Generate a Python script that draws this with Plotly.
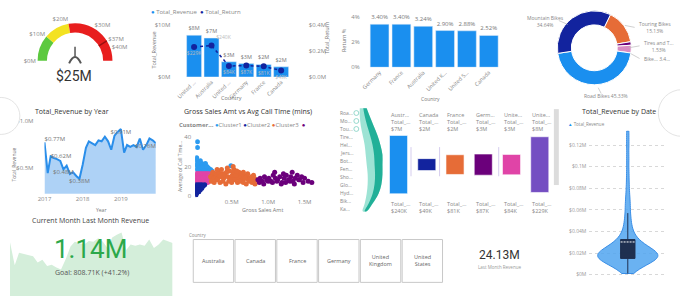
import plotly.graph_objects as go

# ---------------- data ----------------
countries = ["Australia", "Canada", "France", "Germany", "United Kingdom", "United States"]
revenue_m = [7.41, 1.94, 2.38, 2.56, 2.90, 7.95]
return_k = [240, 49, 81, 87, 84, 229]
return_pct = {"Germany": 3.40, "France": 3.40, "Australia": 3.24,
              "United Kingdom": 2.90, "United States": 2.88, "Canada": 2.52}
return_order = ["Germany", "France", "Australia", "United Kingdom", "United States", "Canada"]
return_ticks = ["Germany", "France", "Australia", "United K...", "United S...", "Canada"]
combo_ticks = {"Australia": "Australia", "Canada": "Canada", "France": "France", "Germany": "Germany",
               "United Kingdom": "United ...", "United States": "United ..."}
decomp_names = ["Austr...", "Canada", "France", "Germ...", "Unite...", "Unite..."]

gauge_value = 25
gauge_target = 37
gauge_max = 45
gauge_ticks = [0, 10, 20, 30, 37, 40]

categories = ["Touring Bikes", "Tires and T...", "Bike...", "Road Bikes", "Mountain Bikes"]
category_share = [15.13, 1.53, 3.37, 45.33, 34.64]

months = [f"{y}-{m:02d}-01" for y in (2017, 2018, 2019) for m in range(1, 13)]
monthly_revenue_m = [0.77, 0.44, 0.62, 0.60, 0.59, 0.57, 0.48, 0.52, 0.43, 0.45, 0.41, 0.38,
                     0.53, 0.71, 0.78, 0.76, 0.74, 0.79, 0.78, 0.83, 0.78, 0.69, 0.84, 0.88,
                     0.91, 0.66, 0.74, 0.72, 0.74, 0.72, 0.81, 0.69, 0.74, 0.81, 0.79, 0.76]
year_ticks = ["2017", "2018", "2019"]
labelled_months = {0: "top right", 2: "middle right", 6: "bottom center", 11: "bottom center",
                   24: "bottom center", 35: "bottom left"}

products = ["Roa...", "Mo...", "Tou...", "Tire...", "Hel...", "Jers...", "Bot...", "Fen...",
            "Sho...", "Glo...", "Hyd...", "Bik...", "Ka..."]

# scatter clusters (Gross Sales Amt in M, Avg call time in mins)
c1_x = [0.01, 0.02, 0.03, 0.04, 0.05, 0.06, 0.07, 0.08, 0.09, 0.10, 0.11, 0.12, 0.13, 0.14, 0.15, 0.16, 0.17, 0.18, 0.19, 0.21,
        0.01, 0.03, 0.05, 0.07, 0.09, 0.11, 0.13, 0.15, 0.17, 0.20,
        0.02, 0.04, 0.06, 0.08, 0.10, 0.12, 0.14, 0.16, 0.18, 0.23,
        0.49, 0.03, 0.03, 0.02]
c1_y = [25, 22, 24, 21, 23, 20, 24, 19, 22, 21, 20, 18, 21, 17, 19, 18, 17, 19, 17, 18,
        19, 18, 17, 20, 17, 16, 18, 16, 19, 17,
        21, 17, 19, 16, 19, 17, 22, 20, 16, 17,
        20.5, 33, 37, 26]
c2_x = [0.01, 0.03, 0.05, 0.07, 0.09, 0.11, 0.13, 0.01, 0.03, 0.05, 0.07, 0.09, 0.11,
        0.01, 0.03, 0.05, 0.07, 0.09, 0.01, 0.03, 0.05, 0.07, 0.01, 0.03, 0.05, 0.01, 0.02, 0.01]
c2_y = [7.5, 7.3, 7.6, 7.4, 7.5, 7.2, 7.6, 6.4, 6.6, 6.3, 6.5, 6.2, 6.6,
        5.2, 5.4, 5.1, 5.3, 5.2, 4.0, 4.2, 3.9, 4.1, 2.8, 2.9, 2.7, 1.6, 1.7, 0.5]
c3_x = [0.21, 0.23, 0.25, 0.27, 0.29, 0.31, 0.33, 0.35, 0.37, 0.39, 0.41, 0.43, 0.45, 0.47, 0.49, 0.51,
        0.53, 0.55, 0.57, 0.59, 0.61, 0.63, 0.65, 0.67, 0.69, 0.71, 0.73, 0.75, 0.77, 0.79, 0.81, 0.83,
        0.22, 0.26, 0.30, 0.34, 0.38, 0.42, 0.46, 0.50, 0.54, 0.58, 0.62, 0.66, 0.70, 0.74, 0.78, 0.82,
        0.24, 0.28, 0.32, 0.36, 0.40, 0.44, 0.48, 0.52, 0.56, 0.60, 0.64, 0.68, 0.72, 0.76, 0.80,
        0.44, 0.52, 0.57, 0.36, 0.66, 0.30]
c3_y = [13, 14, 12, 15, 13, 12, 14, 13, 15, 12, 14, 16, 13, 17, 12, 14, 18, 13, 15, 12, 14, 13, 11, 14,
        12, 13, 11, 12, 13, 10, 12, 11,
        10, 9, 11, 9, 10, 8, 10, 9, 11, 9, 10, 9, 8, 10, 9, 8,
        16, 15, 16, 14, 15, 17, 11, 16, 14, 16, 15, 12, 15, 11, 14,
        19, 20, 17, 18, 16, 18]
c4_x = [0.01, 0.02, 0.03, 0.04, 0.05, 0.06, 0.07, 0.08, 0.09, 0.10, 0.11, 0.12, 0.13, 0.14, 0.15, 0.16, 0.17, 0.18, 0.19, 0.20,
        0.01, 0.02, 0.03, 0.04, 0.05, 0.06, 0.07, 0.08, 0.09, 0.10, 0.11, 0.12, 0.13, 0.14, 0.15, 0.16, 0.17, 0.18, 0.19, 0.20,
        0.01, 0.03, 0.05, 0.07, 0.09, 0.11, 0.13, 0.15, 0.17, 0.19]
c4_y = [15, 14, 15, 14, 15, 14, 15, 14, 15, 14, 15, 14, 15, 14, 15, 14, 15, 14, 15, 14,
        12, 11, 12, 11, 12, 11, 12, 11, 12, 11, 12, 11, 12, 11, 12, 11, 12, 11, 12, 11,
        9, 9.5, 9, 9.5, 9, 9.5, 9, 9.5, 9, 10]
c5_x = [0.86, 0.89, 0.92, 0.95, 0.98, 1.01, 1.04, 1.07, 1.10, 1.13, 1.16, 1.19, 1.22, 1.25, 1.28, 1.31,
        1.34, 1.37, 1.40, 1.43, 1.46, 1.50, 1.55, 1.60,
        0.88, 0.94, 1.00, 1.06, 1.12, 1.18, 1.24, 1.30, 1.36, 1.42, 1.48, 1.09, 1.21, 1.33]
c5_y = [11, 12, 10, 13, 11, 12, 10, 14, 12, 11, 13, 9, 12, 14, 11, 13, 10, 12, 14, 11, 13, 12, 10, 9,
        9, 8, 10, 9, 10, 8, 9, 10, 8, 11, 9, 16, 15, 16]

daily_revenue_m = [0.001, 0.004, 0.006, 0.007, 0.008, 0.009, 0.010, 0.010, 0.011, 0.012, 0.012, 0.013, 0.013,
                   0.014, 0.014, 0.015, 0.015, 0.015, 0.016, 0.016, 0.016, 0.017, 0.017, 0.017, 0.018,
                   0.018, 0.018, 0.019, 0.019, 0.019, 0.020, 0.020, 0.020, 0.021, 0.021, 0.022, 0.022,
                   0.023, 0.023, 0.024, 0.025, 0.025, 0.026, 0.027, 0.028, 0.029, 0.030, 0.031, 0.032,
                   0.034, 0.036, 0.038, 0.041, 0.044, 0.048, 0.052, 0.057, 0.063, 0.068, 0.075, 0.084,
                   0.095, 0.108, 0.121, 0.133]

# ribbon (flow of products into first country)
rib_y = [107, 115, 125, 135, 145, 155, 165, 175, 185, 195, 205, 213]
rib_lo = [355, 355, 356, 358, 360, 361, 362, 363, 363, 362, 360, 358]
rib_hi = [362, 365, 369, 373, 376, 378, 378, 378, 377, 374, 368, 362]

BLUE = "#1A8FEF"
NAVY = "#12239E"
ORANGE = "#E66C37"
PURPLE = "#6B007B"
PINK = "#E044A7"
VIOLET = "#744EC2"
country_colors = [BLUE, NAVY, ORANGE, PURPLE, PINK, VIOLET]
FONT = "Open Sans"


def X(px):
    return px / 680


def Y(py):
    return 1 - py / 300


fig = go.Figure()
ann = []
shapes = []


def text(t, px, py, size=6, color="#777", xa="center", ya="middle", angle=0, family=FONT, **kw):
    ann.append(dict(text=t, x=X(px), y=Y(py), xref="paper", yref="paper", showarrow=False,
                    xanchor=xa, yanchor=ya, textangle=angle,
                    font=dict(size=size, color=color, family=family), **kw))


# ---------------- gauge ----------------
fig.add_trace(go.Indicator(
    mode="gauge", value=gauge_value,
    domain=dict(x=[X(28), X(104)], y=[Y(60), Y(18)]),
    gauge=dict(
        shape="angular",
        axis=dict(range=[0, gauge_max], tickvals=gauge_ticks,
                  ticktext=[f"${t}M" for t in gauge_ticks],
                  tickfont=dict(size=6, color="#888", family=FONT), ticklen=0, tickwidth=0),
        bar=dict(color="rgba(0,0,0,0)", thickness=0),
        bgcolor="white", borderwidth=0,
        steps=[dict(range=[0, 10], color="#5CC93F"),
               dict(range=[10, 20], color="#F3E221"),
               dict(range=[20, gauge_max], color="#E81E1E")],
        threshold=dict(line=dict(color="#9B1010", width=1.5), thickness=1, value=gauge_target),
    ),
))
text(f"${gauge_value}M", 65, 74, size=14, color="#333", family="Roboto")
shapes.append(dict(type="path", xref="paper", yref="paper",
                   path=f"M {X(60)},{Y(61)} Q {X(66)},{Y(48)} {X(72)},{Y(61)}",
                   line=dict(color="#555", width=2)))
shapes.append(dict(type="line", xref="paper", yref="paper", x0=X(66), x1=X(66), y0=Y(54), y1=Y(44),
                   line=dict(color="#555", width=1.5)))

# ---------------- combo: revenue + return by country ----------------
order = sorted(range(len(countries)), key=lambda i: -revenue_m[i])
fig.add_trace(go.Bar(
    x=list(range(6)), y=[revenue_m[i] for i in order], marker_color=BLUE, width=0.86,
    text=[f"${revenue_m[i]:.0f}M" for i in order], textposition="outside", cliponaxis=False,
    textfont=dict(size=5.5, color="#777"), xaxis="x", yaxis="y"))
fig.add_trace(go.Scatter(
    x=list(range(6)), y=[return_k[i] / 1000 for i in order], mode="lines+markers+text",
    line=dict(color=NAVY, width=1.5, dash="dot"), marker=dict(color=NAVY, size=6),
    text=[f"${return_k[i]}K" for i in order],
    textposition=["bottom center", "top right", "bottom center", "bottom center", "bottom center", "bottom center"],
    textfont=dict(size=5, color="#bbb"), cliponaxis=False, xaxis="x", yaxis="y2"))
text(f"<span style='color:{BLUE}'>●</span> Total_Revenue  <span style='color:{NAVY}'>●</span> Total_Return",
     141, 8, size=6, color="#888", xa="left")
text("Total_Revenue", 146, 47, size=5.5, angle=-90)
text("Total_Return", 322, 35, size=5.5, angle=-90)
text("Country", 225, 97, size=5.5)

# ---------------- return % bars ----------------
fig.add_trace(go.Bar(
    x=list(range(6)), y=[return_pct[c] for c in return_order], marker_color=BLUE, width=0.86,
    text=[f"{return_pct[c]:.2f}%" for c in return_order], textposition="outside", cliponaxis=False,
    textfont=dict(size=6, color="#777"), xaxis="x2", yaxis="y3"))
text("Return %", 339, 37, size=5.5, angle=-90)
text("Country", 427, 98, size=5)

# ---------------- donut ----------------
fig.add_trace(go.Pie(
    labels=categories, values=category_share, hole=0.62, sort=False, direction="clockwise",
    rotation=26, textinfo="none", marker=dict(colors=[ORANGE, PURPLE, "#D98BC2", BLUE, NAVY],
                                               line=dict(color="white", width=1)),
    domain=dict(x=[X(555), X(631)], y=[Y(83), Y(7)])))
text(f"{categories[4]}<br>{category_share[4]:.2f}%", 543, 18, size=5, color="#888")
text(f"{categories[0]}<br>{category_share[0]:.2f}%", 636, 24, size=5, color="#888", xa="left")
text(f"{categories[1]}<br>{category_share[1]:.2f}%", 641, 44, size=5, color="#888", xa="left")
text(f"{categories[2]} {category_share[2]:.1f}...", 641, 57, size=5, color="#888", xa="left")
text(f"{categories[3]} {category_share[3]:.2f}%", 605, 95, size=5, color="#888")
for (a, b, c, d) in [(557, 17, 566, 21), (624, 22, 634, 24), (628, 45, 639, 43), (630, 51, 639, 56), (597, 86, 600, 92)]:
    shapes.append(dict(type="line", xref="paper", yref="paper", x0=X(a), y0=Y(b), x1=X(c), y1=Y(d),
                       line=dict(color="#bbb", width=0.7)))

# ---------------- revenue by year ----------------
fig.add_trace(go.Scatter(
    x=months, y=monthly_revenue_m, mode="lines+text", fill="tozeroy",
    fillcolor="rgba(120,180,240,0.6)", line=dict(color="#2A8EEA", width=2),
    text=[f"${v:.2f}M" if i in labelled_months else "" for i, v in enumerate(monthly_revenue_m)],
    textposition=[labelled_months.get(i, "top center") for i in range(len(months))],
    textfont=dict(size=6, color="#777"), cliponaxis=False, xaxis="x3", yaxis="y4"))
text("Total_Revenue by Year", 63, 110, size=7, color="#333")
text("Total_Revenue", 4, 165, size=5, angle=-90)
text("Year", 92, 212, size=5)

# ---------------- scatter ----------------
for xs, ys, col in [(c1_x, c1_y, "#2C9BF0"), (c4_x, c4_y, PINK), (c2_x, c2_y, NAVY),
                    (c3_x, c3_y, ORANGE), (c5_x, c5_y, PURPLE)]:
    fig.add_trace(go.Scatter(x=xs, y=ys, mode="markers", marker=dict(color=col, size=5),
                             xaxis="x4", yaxis="y5"))
text("Gross Sales Amt vs Avg Call Time (mins)", 242, 110, size=7, color="#333")
text(f"<b>Customer...</b> <span style='color:#2C9BF0'>●</span>Cluster1 <span style='color:{NAVY}'>●</span>Cluster2 "
     f"<span style='color:{ORANGE}'>●</span>Cluster3  <span style='color:{PURPLE}'>●</span>",
     169, 124, size=6, color="#888", xa="left")
text("Average of Call Time...", 172, 167, size=5, angle=-90)
text("Gross Sales Amt", 256, 212, size=5.5)

# ---------------- decomposition-like visual ----------------
fig.add_trace(go.Scatter(x=rib_lo + rib_hi[::-1], y=rib_y + rib_y[::-1], fill="toself", mode="lines",
                         line=dict(width=0, shape="spline"), fillcolor="rgba(60,200,170,0.5)",
                         xaxis="x8", yaxis="y9"))
inner = [h - (h - l) * 0.5 for l, h in zip(rib_lo, rib_hi)]
fig.add_trace(go.Scatter(x=inner + rib_hi[::-1], y=rib_y + rib_y[::-1], fill="toself", mode="lines",
                         line=dict(width=0, shape="spline"), fillcolor="rgba(20,170,145,0.9)",
                         xaxis="x8", yaxis="y9"))
fig.add_trace(go.Bar(x=list(range(6)), y=return_k, base=[-v / 2 for v in return_k], width=0.64,
                     marker=dict(color=country_colors, line=dict(color="rgba(255,255,255,0.6)", width=1)),
                     xaxis="x5", yaxis="y6"))
for i, name in enumerate(decomp_names):
    ann.append(dict(text=f"{name}<br>Total_...<br>${revenue_m[i]:.0f}M", x=i - 0.34, y=Y(108),
                    xref="x5", yref="paper", xanchor="left", yanchor="top", align="left", showarrow=False,
                    font=dict(size=5.5, color="#888", family=FONT)))
    ann.append(dict(text=f"Total_...<br>${return_k[i]}K", x=i - 0.34, y=Y(199),
                    xref="x5", yref="paper", xanchor="left", yanchor="top", align="left", showarrow=False,
                    font=dict(size=5.5, color="#888", family=FONT)))
for i, p in enumerate(products):
    text(p, 333, 112 + i * 8.2, size=5, color="#888", xa="left")
for i in range(3):
    shapes.append(dict(type="circle", xref="paper", yref="paper", x0=X(349), x1=X(354),
                       y0=Y(109.5 + i * 8.2), y1=Y(114.5 + i * 8.2), line=dict(color="#7ccfc0", width=0.8)))
for sx in [407, 436, 496]:
    shapes.append(dict(type="line", xref="paper", yref="paper", x0=X(sx), x1=X(sx), y0=Y(147), y1=Y(177),
                       line=dict(color="#d5cdee", width=1)))
shapes.append(dict(type="rect", xref="paper", yref="paper", x0=X(552), x1=X(557), y0=Y(186), y1=Y(108),
                   fillcolor="#dcdcdc", line=dict(width=0)))

# ---------------- violin ----------------
fig.add_trace(go.Violin(y=daily_revenue_m, x0=0, width=1.56, spanmode="hard", points=False,
                        fillcolor="rgba(80,165,240,0.85)", line=dict(color="#3A8EE6", width=1),
                        box=dict(visible=True, width=0.24, fillcolor="#1F3050", line=dict(color="#1F3050", width=1)),
                        meanline=dict(visible=True, color="white", width=1),
                        xaxis="x6", yaxis="y7"))
text("Total_Revenue by Date", 618, 110, size=7, color="#333")
text(f"<span style='color:{BLUE}'>▲</span> Total_Revenue", 564, 123, size=4.5, color="#888", xa="left")

# ---------------- KPI ----------------
fig.add_trace(go.Scatter(x=months, y=monthly_revenue_m, mode="lines", fill="tozeroy",
                         fillcolor="#D4EEDA", line=dict(width=0), xaxis="x7", yaxis="y8"))
text("Current Month Last Month Revenue", 82, 222, size=7, color="#444")
text("1.14M", 82, 252, size=26, color="#2BA84A", family="Roboto")
text("Goal: 808.71K (+41.2%)", 83, 276, size=7, color="#555")

# ---------------- slicer + card ----------------
text("Country", 180, 237, size=4.5, color="#888", xa="left")
for i, c in enumerate(countries):
    x0 = 186 + i * 42.4
    shapes.append(dict(type="rect", xref="paper", yref="paper", x0=X(x0), x1=X(x0 + 41), y0=Y(286), y1=Y(242),
                       line=dict(color="#c8c8c8", width=1), fillcolor="white"))
    text(c.replace("United ", "United<br>"), x0 + 20.5, 264, size=5.5, color="#666")
text("24.13M", 497, 258, size=12, color="#333", family="Roboto")
text("Last Month Revenue", 497, 270, size=4.5, color="#999")

# UI overlay circles
shapes.append(dict(type="circle", xref="paper", yref="paper", x0=X(658), x1=X(706), y0=Y(136), y1=Y(88),
                   line=dict(color="#e4e4e4", width=1), fillcolor="white", layer="above"))
shapes.append(dict(type="circle", xref="paper", yref="paper", x0=X(-28), x1=X(10), y0=Y(134), y1=Y(96),
                   line=dict(color="#e4e4e4", width=1), fillcolor="white", layer="above"))

# ---------------- layout ----------------
tf = dict(size=6, color="#888", family=FONT)
hidden = dict(visible=False, showgrid=False, zeroline=False)
base_ax = dict(showgrid=False, zeroline=False, showline=False, ticks="", tickfont=tf)

fig.update_layout(
    width=680, height=300, margin=dict(l=0, r=0, t=0, b=0),
    paper_bgcolor="white", plot_bgcolor="white", showlegend=False,
    font=dict(family=FONT), bargap=0.1,
    xaxis=dict(base_ax, domain=[X(178), X(284)], anchor="y", range=[-0.5, 5.5], tickvals=list(range(6)),
               ticktext=[combo_ticks[countries[i]] for i in order], tickangle=-45,
               tickfont=dict(size=5.5, color="#888", family=FONT)),
    yaxis=dict(base_ax, domain=[Y(75), Y(21)], anchor="x", range=[0, 10], tickvals=[0, 10],
               ticktext=["$0M", "$10M"], ticklabelstandoff=14),
    yaxis2=dict(base_ax, overlaying="y", side="right", anchor="x", range=[0, 0.4], tickvals=[0, 0.2, 0.4],
                ticktext=["$0.0M", "$0.2M", "$0.4M"], ticklabelstandoff=18),
    xaxis2=dict(base_ax, domain=[X(364), X(497)], anchor="y3", range=[-0.5, 5.5], tickvals=list(range(6)),
                ticktext=return_ticks, tickangle=-45, tickfont=dict(size=5.5, color="#888", family=FONT)),
    yaxis3=dict(base_ax, domain=[Y(65), Y(13)], anchor="x2", range=[0, 4], tickvals=[0, 2, 4],
                ticktext=["0%", "2%", "4%"], ticklabelstandoff=8),
    xaxis3=dict(base_ax, domain=[X(35), X(148)], anchor="y4", type="date", range=[months[0], months[-1]],
                tickvals=[f"{y}-01-01" for y in year_ticks], ticktext=year_ticks),
    yaxis4=dict(base_ax, domain=[Y(195), Y(117)], anchor="x3", range=[0.22, 1.03], tickvals=[0.5, 1.0],
                ticktext=["$0.5M", "$1.0M"], ticklabelstandoff=10),
    xaxis4=dict(base_ax, domain=[X(188), X(313)], anchor="y5", range=[0, 1.69], tickvals=[0.5, 1.0, 1.5],
                ticktext=["0.5M", "1.0M", "1.5M"]),
    yaxis5=dict(base_ax, domain=[Y(198.5), Y(132)], anchor="x4", range=[-1, 43.3], tickvals=[0, 20, 40],
                ticklabelstandoff=3),
    xaxis5=dict(hidden, domain=[X(380), X(552)], anchor="y6", range=[-0.5, 5.5]),
    yaxis6=dict(hidden, domain=[Y(198), Y(132)], anchor="x5", range=[-132, 132]),
    xaxis6=dict(hidden, domain=[X(588), X(666)], anchor="y7", range=[-1, 1]),
    yaxis7=dict(base_ax, domain=[Y(282), Y(130)], anchor="x6", range=[-0.0036, 0.1335],
                tickvals=[0, 0.02, 0.04, 0.06, 0.08, 0.10, 0.12],
                ticktext=["$0M", "$0.02M", "$0.04M", "$0.06M", "$0.08M", "$0.1M", "$0.12M"],
                showgrid=True, gridcolor="#d8d8d8", griddash="dot", gridwidth=1,
                tickfont=dict(size=5, color="#999", family=FONT), ticklabelstandoff=2),
    xaxis7=dict(hidden, domain=[0, X(165)], anchor="y8", type="date", range=[months[0], months[-1]]),
    yaxis8=dict(hidden, domain=[Y(300), Y(232)], anchor="x7", range=[0, 0.95]),
    xaxis8=dict(hidden, domain=[X(350), X(382)], anchor="y9", range=[350, 382]),
    yaxis9=dict(hidden, domain=[Y(215), Y(105)], anchor="x8", range=[215, 105]),
    annotations=ann, shapes=shapes,
)

fig.write_html("out.html")
